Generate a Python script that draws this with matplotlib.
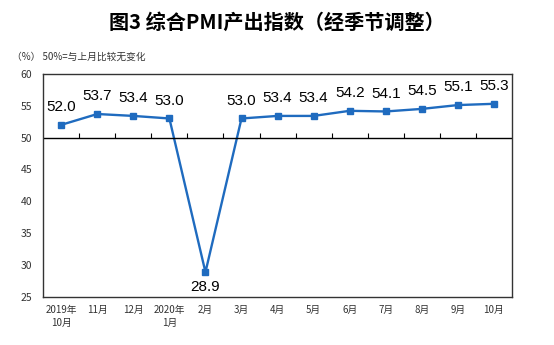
import numpy as np
import matplotlib.pyplot as plt

plt.rcParams['font.family'] = ['Noto Sans CJK SC', 'DejaVu Sans']

# 月份标签与综合PMI产出指数
months = ['2019年\n10月', '11月', '12月', '2020年\n1月', '2月', '3月', '4月',
          '5月', '6月', '7月', '8月', '9月', '10月']
pmi = [52.0, 53.7, 53.4, 53.0, 28.9, 53.0, 53.4, 53.4, 54.2, 54.1, 54.5, 55.1, 55.3]

blue = '#1f6bbf'
x = np.arange(len(months))

fig = plt.figure(figsize=(5.54, 3.45), dpi=100)
ax = fig.add_axes([0.078, 0.139, 0.846, 0.647])

ax.plot(x, pmi, color=blue, linewidth=1.7, marker='s', markersize=4)
ax.axhline(50, color='black', linewidth=1)
# 50线上的分类刻度
ax.vlines(np.arange(0.5, len(months) - 1), 50, 50.7, color='black', linewidth=0.8)

for xi, v in zip(x, pmi):
    if v < 40:
        ax.text(xi, v - 1.3, f'{v:.1f}', ha='center', va='top', fontsize=11,
                family='Liberation Sans')
    else:
        ax.text(xi, v + 1.7, f'{v:.1f}', ha='center', va='bottom', fontsize=11,
                family='Liberation Sans')

ax.set_xlim(-0.5, len(months) - 0.5)
ax.set_ylim(25, 60)
ax.set_yticks(range(25, 61, 5))
ax.set_xticks(x)
ax.set_xticklabels(months, fontsize=7, color='#333333', linespacing=1.3)
ax.tick_params(axis='y', length=0, labelsize=7.5, labelcolor='#333333', pad=8)
ax.tick_params(axis='x', length=0, pad=6)
for s in ax.spines.values():
    s.set_linewidth(1)
    s.set_color('#333333')

fig.text(0.5, 0.935, '图3 综合PMI产出指数（经季节调整）', ha='center', va='center',
         fontsize=14.5, fontweight='bold')
fig.text(0.022, 0.835, '（%） 50%=与上月比较无变化', ha='left', va='center',
         fontsize=7, color='#333333')

fig.savefig('out.png', dpi=100)
